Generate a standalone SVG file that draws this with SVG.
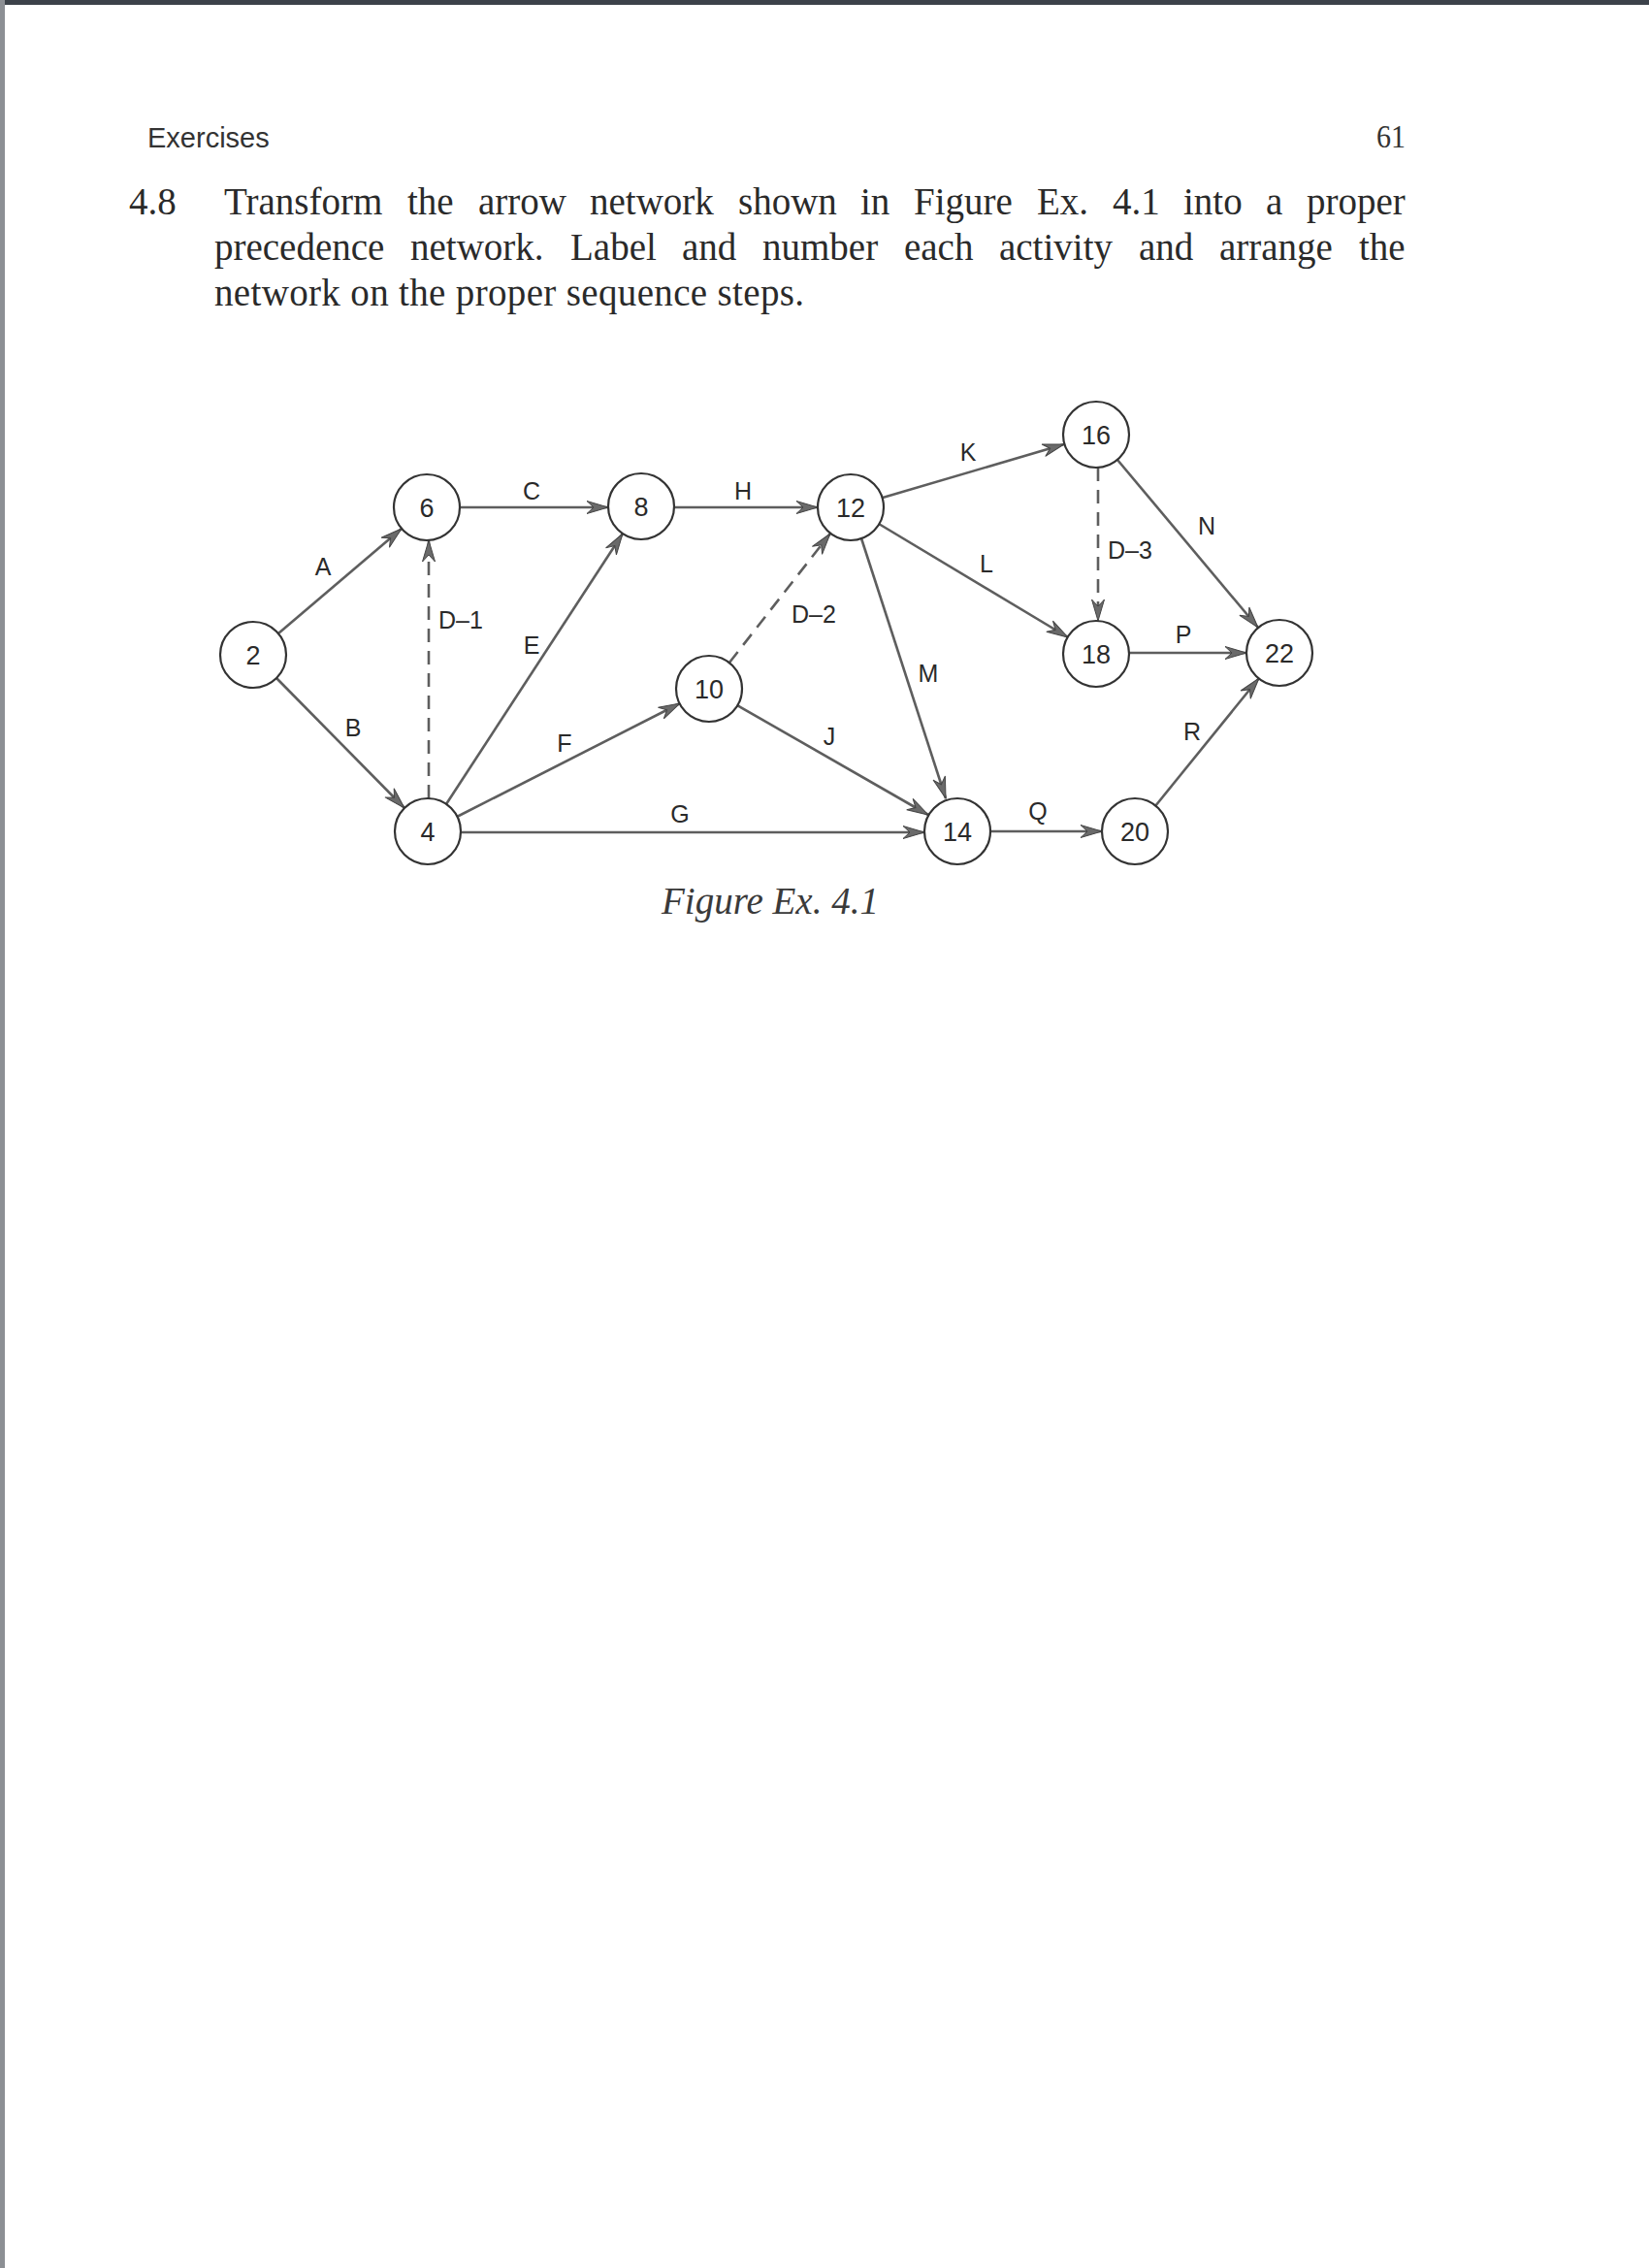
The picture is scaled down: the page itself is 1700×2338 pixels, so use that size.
<svg xmlns="http://www.w3.org/2000/svg" width="1700" height="2338" viewBox="0 0 1700 2338">
<style>
  .node circle { fill: #ffffff; stroke: #333333; stroke-width: 2.2; }
  .node text { font-family: "Liberation Sans", Arial, sans-serif; font-size: 27px; fill: #2a2a2a; text-anchor: middle; }
  .edge { stroke: #5e5e5e; stroke-width: 2.6; fill: none; marker-end: url(#arr); }
  .dash { stroke-dasharray: 14 9; }
  .lbl { font-family: "Liberation Sans", Arial, sans-serif; font-size: 25px; fill: #2a2a2a; }
  .mid { text-anchor: middle; }
  .para { font-family: "Liberation Serif", "Times New Roman", serif; font-size: 39px; fill: #2a2a2a; }
</style>
<defs>
  <marker id="arr" markerUnits="userSpaceOnUse" markerWidth="26" markerHeight="18" refX="23" refY="8" orient="auto">
    <path d="M1,1.5 L23,8 L1,14.5 L8,8 Z" fill="#6a6a6a" stroke="#444444" stroke-width="1"/>
  </marker>
</defs>
<rect x="0" y="0" width="1700" height="2338" fill="#ffffff"/>
<!-- scan edges -->
<rect x="0" y="0" width="1700" height="5" fill="#3c424a"/>
<rect x="0" y="0" width="5" height="2338" fill="#8c8f94"/>

<!-- page header and exercise text -->
<text x="152" y="152" font-family="Liberation Sans, Arial, sans-serif" font-size="29" fill="#333333">Exercises</text>
<text x="1419" y="152" font-family="Liberation Serif, Times New Roman, serif" font-size="34" fill="#333333" textLength="30" lengthAdjust="spacingAndGlyphs">61</text>

<text class="para" y="221"><tspan x="133">4.8</tspan><tspan x="231">Transform</tspan><tspan x="420">the</tspan><tspan x="493">arrow</tspan><tspan x="608">network</tspan><tspan x="761">shown</tspan><tspan x="887">in</tspan><tspan x="942">Figure</tspan><tspan x="1069">Ex.</tspan><tspan x="1147">4.1</tspan><tspan x="1220">into</tspan><tspan x="1305">a</tspan><tspan x="1347">proper</tspan></text>
<text class="para" y="268"><tspan x="221">precedence</tspan><tspan x="423">network.</tspan><tspan x="588">Label</tspan><tspan x="703">and</tspan><tspan x="786">number</tspan><tspan x="932">each</tspan><tspan x="1030">activity</tspan><tspan x="1174">and</tspan><tspan x="1257">arrange</tspan><tspan x="1401">the</tspan></text>
<text class="para" x="221" y="315" textLength="608" lengthAdjust="spacing">network on the proper sequence steps.</text>

<!-- connectors -->
<g id="connectors">
  <line id="A" class="edge" x1="287" y1="653" x2="414" y2="545"/>
  <line id="B" class="edge" x1="285" y1="699" x2="417" y2="833"/>
  <line id="C" class="edge" x1="474" y1="523" x2="627" y2="523"/>
  <line id="D-1" class="edge dash" x1="442" y1="823" x2="442" y2="557"/>
  <line id="E" class="edge" x1="460" y1="829" x2="642" y2="550"/>
  <line id="F" class="edge" x1="471" y1="842" x2="701" y2="725"/>
  <line id="G" class="edge" x1="475" y1="858" x2="953" y2="858"/>
  <line id="H" class="edge" x1="695" y1="523" x2="843" y2="523"/>
  <line id="D-2" class="edge dash" x1="752" y1="683" x2="856" y2="550"/>
  <line id="J" class="edge" x1="760" y1="727" x2="957" y2="840"/>
  <line id="K" class="edge" x1="910" y1="513" x2="1097" y2="458"/>
  <line id="L" class="edge" x1="906" y1="540" x2="1101" y2="657"/>
  <line id="M" class="edge" x1="888" y1="555" x2="975" y2="823"/>
  <line id="D-3" class="edge dash" x1="1132" y1="482" x2="1132" y2="640"/>
  <line id="N" class="edge" x1="1152" y1="474" x2="1297" y2="647"/>
  <line id="P" class="edge" x1="1164" y1="673" x2="1285" y2="673"/>
  <line id="Q" class="edge" x1="1021" y1="857" x2="1136" y2="857"/>
  <line id="R" class="edge" x1="1191" y1="831" x2="1298" y2="699"/>
</g>

<!-- connector labels -->
<g id="labels">
  <text class="lbl mid" x="333" y="593">A</text>
  <text class="lbl mid" x="364" y="759">B</text>
  <text class="lbl mid" x="548" y="515">C</text>
  <text class="lbl" x="452" y="648">D–1</text>
  <text class="lbl mid" x="548" y="674">E</text>
  <text class="lbl mid" x="582" y="775">F</text>
  <text class="lbl mid" x="701" y="848">G</text>
  <text class="lbl mid" x="766" y="515">H</text>
  <text class="lbl" x="816" y="642">D–2</text>
  <text class="lbl mid" x="855" y="768">J</text>
  <text class="lbl mid" x="998" y="475">K</text>
  <text class="lbl mid" x="1017" y="590">L</text>
  <text class="lbl mid" x="957" y="703">M</text>
  <text class="lbl" x="1142" y="576">D–3</text>
  <text class="lbl mid" x="1244" y="551">N</text>
  <text class="lbl mid" x="1220" y="663">P</text>
  <text class="lbl mid" x="1070" y="845">Q</text>
  <text class="lbl mid" x="1229" y="763">R</text>
</g>

<!-- nodes -->
<g id="n2" class="node"><circle cx="261" cy="675" r="34"/><text x="261" y="685">2</text></g>
<g id="n6" class="node"><circle cx="440" cy="523" r="34"/><text x="440" y="533">6</text></g>
<g id="n8" class="node"><circle cx="661" cy="522" r="34"/><text x="661" y="532">8</text></g>
<g id="n12" class="node"><circle cx="877" cy="523" r="34"/><text x="877" y="533">12</text></g>
<g id="n16" class="node"><circle cx="1130" cy="448" r="34"/><text x="1130" y="458">16</text></g>
<g id="n18" class="node"><circle cx="1130" cy="674" r="34"/><text x="1130" y="684">18</text></g>
<g id="n22" class="node"><circle cx="1319" cy="673" r="34"/><text x="1319" y="683">22</text></g>
<g id="n10" class="node"><circle cx="731" cy="710" r="34"/><text x="731" y="720">10</text></g>
<g id="n4" class="node"><circle cx="441" cy="857" r="34"/><text x="441" y="867">4</text></g>
<g id="n14" class="node"><circle cx="987" cy="857" r="34"/><text x="987" y="867">14</text></g>
<g id="n20" class="node"><circle cx="1170" cy="857" r="34"/><text x="1170" y="867">20</text></g>

<!-- caption -->
<text x="682" y="942" font-family="Liberation Serif, Times New Roman, serif" font-style="italic" font-size="40" fill="#3a3a3a" textLength="224" lengthAdjust="spacingAndGlyphs">Figure Ex. 4.1</text>
</svg>
